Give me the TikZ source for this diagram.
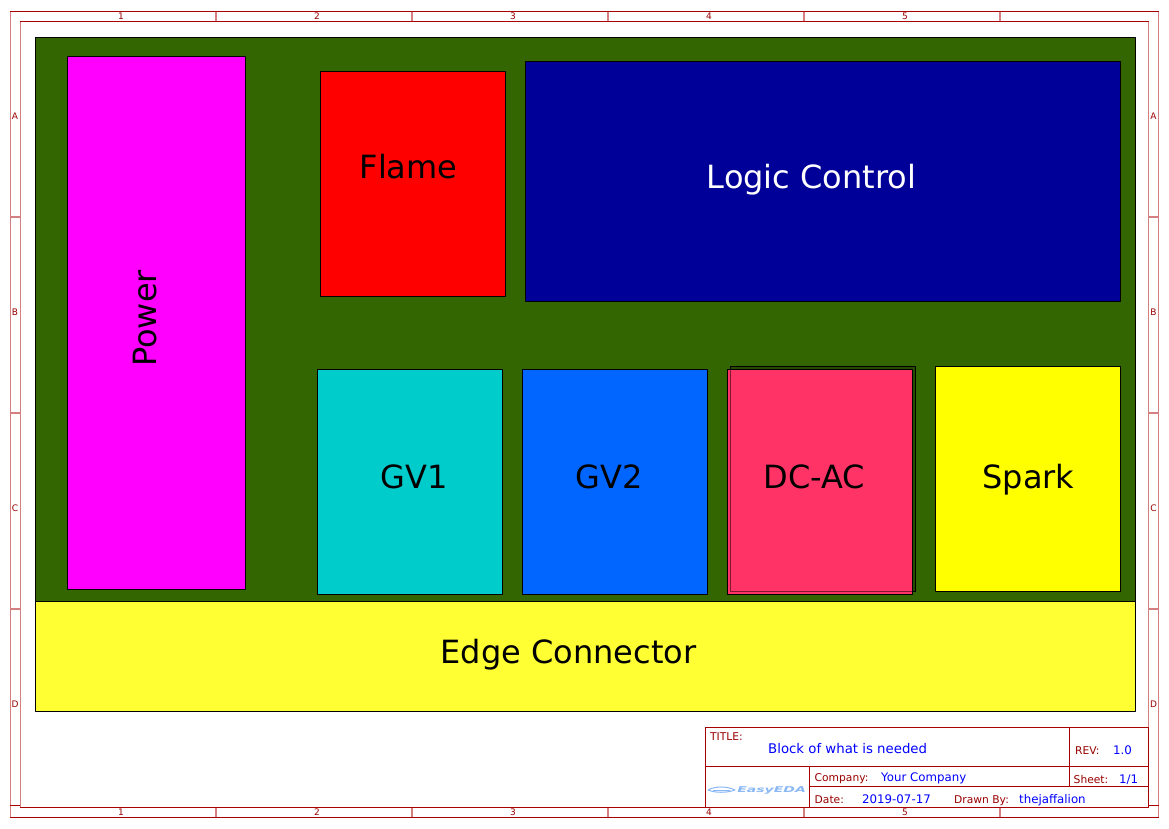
\documentclass[tikz,border=0pt]{standalone}
\usepackage{fontspec}
\setmainfont{DejaVu Sans}
\definecolor{frameRed}{HTML}{990000}
\definecolor{lineRed}{HTML}{AA0000}
\definecolor{boardGreen}{HTML}{336600}
\definecolor{blockMagenta}{HTML}{FF00FF}
\definecolor{blockYellow}{HTML}{FFFF00}
\definecolor{blockRed}{HTML}{FF0000}
\definecolor{blockPink}{HTML}{FF3366}
\definecolor{blockBlue}{HTML}{0066FF}
\definecolor{blockCyan}{HTML}{00CCCC}
\definecolor{blockNavy}{HTML}{000099}
\definecolor{edgeYellow}{HTML}{FFFF33}
\definecolor{logoBlue}{HTML}{8AB8F5}
\definecolor{valueBlue}{HTML}{0000FF}
\tikzset{
	block/.style={draw=black, line width=0.9pt},
	blocklabel/.style={font=\fontsize{32}{32}\selectfont, inner sep=0pt, text=black, anchor=base},
	frameline/.style={draw=lineRed, line width=1.1pt},
	thinframe/.style={draw=lineRed!50, line width=1.3pt},
	ticklabel/.style={font=\fontsize{9}{9}\selectfont, text=frameRed, inner sep=0pt},
	fieldname/.style={font=\fontsize{10.7}{10.7}\selectfont, text=frameRed, inner sep=0pt, anchor=base west},
	fieldvalue/.style={font=\fontsize{11.8}{11.8}\selectfont, text=valueBlue, inner sep=0pt, anchor=base west},
}
\begin{document}
\begin{tikzpicture}[x=1pt, y=-1pt, line join = round]
		\useasboundingbox (0,0) rectangle (1169,828);
		\fill[white] (0,0) rectangle (1169,828);
		
		% sheet frame
		\draw[thinframe] (10.5,11.5) -- (10.5,817);
		\draw[thinframe] (20.5,21) -- (20.5,807);
		\draw[thinframe] (1148.7,21) -- (1148.7,807);
		\draw[thinframe] (1158.7,11.5) -- (1158.7,817);
		\draw[frameline] (10,11.5) -- (1159,11.5);
		\draw[frameline] (20,21.5) -- (1149,21.5);
		\draw[frameline] (20,807.5) -- (1149,807.5);
		\draw[frameline] (10,817.5) -- (1159,817.5);
		\draw[frameline] (10,805.5) -- (20,805.5);
		\draw[frameline] (1149,805.5) -- (1159,805.5);
		
		% ticks and zone letters
		\foreach \x in {216,412,608,804,1000} {
			\draw[thinframe] (\x,11.5) -- (\x,21);
			\draw[thinframe] (\x,807.5) -- (\x,817);
		}
		\foreach \y in {217,413,609} {
			\draw[thinframe] (10.5,\y) -- (20.5,\y);
			\draw[thinframe] (1148.7,\y) -- (1158.7,\y);
		}
		\foreach \i/\x in {1/121,2/317,3/513,4/709,5/905} {
			\node[ticklabel] (top\i) at (\x,16.5) {\i};
			\node[ticklabel] (bottom\i) at (\x,812.5) {\i};
		}
		\foreach \l/\y in {A/116,B/312,C/508,D/704} {
			\node[ticklabel] (left\l) at (15,\y) {\l};
			\node[ticklabel] (right\l) at (1153.5,\y) {\l};
		}
		
		% board and blocks
		\draw[block, fill=boardGreen] (35,37) rectangle (1135,601);
		\draw[block, fill=edgeYellow] (35,601) rectangle (1135,711.5);
		\draw[block, fill=blockMagenta] (67.5,56.5) rectangle (245,589);
		\draw[block, fill=blockRed] (320,71) rectangle (505,296);
		\draw[block, fill=blockNavy] (525,61.5) rectangle (1120,301);
		\draw[block, fill=blockCyan] (317.5,369) rectangle (502.5,594);
		\draw[block, fill=blockBlue] (522.5,369) rectangle (707.5,594);
		\draw[block, fill=boardGreen!75!black] (730,366.5) rectangle (915,591.5);
		\draw[block, fill=blockPink] (727.5,369) rectangle (912.5,594);
		\draw[black, line width=0.9pt, opacity=0.5] (730,369) -- (730,591.5) -- (912.5,591.5);
		\draw[block, fill=blockYellow] (935,366.5) rectangle (1120,591.5);
		
		% block names
		\node[blocklabel, rotate=90] (power) at (156,318.5) {Power};
		\node[blocklabel] (flame) at (408.5,178) {Flame};
		\node[blocklabel, text=white] (logic) at (811.5,188) {Logic Control};
		\node[blocklabel] (gv1) at (414,488.5) {GV1};
		\node[blocklabel] (gv2) at (609,488.5) {GV2};
		\node[blocklabel] (dcac) at (814.5,488.5) {DC-AC};
		\node[blocklabel] (spark) at (1028.5,488.5) {Spark};
		\node[blocklabel] (edge) at (568.5,663) {Edge Connector};
		
		% title block
		\draw[frameline, fill=white] (705.5,727.5) rectangle (1148.7,807.5);
		\draw[frameline] (705.5,766.5) -- (1148.7,766.5);
		\draw[frameline] (809.5,766.5) -- (809.5,807.5);
		\draw[frameline] (809.5,786.5) -- (1148.7,786.5);
		\draw[frameline] (1069.5,727.5) -- (1069.5,786.5);
		
		\node[fieldname] (titlename) at (710,740.5) {TITLE:};
		\node[fieldvalue, font=\fontsize{13.3}{13.3}\selectfont] (titlevalue) at (768,753) {Block of what is needed};
		\node[fieldname] (revname) at (1075,754) {REV:};
		\node[fieldvalue] (revvalue) at (1113,754.5) {1.0};
		\node[fieldname] (companyname) at (814.5,781) {Company:};
		\node[fieldvalue] (companyvalue) at (881,781) {Your Company};
		\node[fieldname] (sheetname) at (1073.5,783) {Sheet:};
		\node[fieldvalue] (sheetvalue) at (1119,783.5) {1/1};
		\node[fieldname] (datename) at (814.5,803) {Date:};
		\node[fieldvalue] (datevalue) at (862,803) {2019-07-17};
		\node[fieldname] (drawnname) at (954,803) {Drawn By:};
		\node[fieldvalue] (drawnvalue) at (1019,803) {thejaffalion};
		
		% logo
		\draw[logoBlue, line width=1pt] (708,790) .. controls (715,786) and (727,786) .. (735,790) .. controls (727,793) and (715,793) .. (708,790);
		\draw[logoBlue, line width=0.7pt] (713,790) -- (730,790);
		\node[font=\fontsize{8}{8}\selectfont\itshape\bfseries, text=logoBlue, inner sep=0pt, anchor=west, xscale=1.75] (logo) at (737,790) {EasyEDA};
		
		\end{tikzpicture}
\end{document}
